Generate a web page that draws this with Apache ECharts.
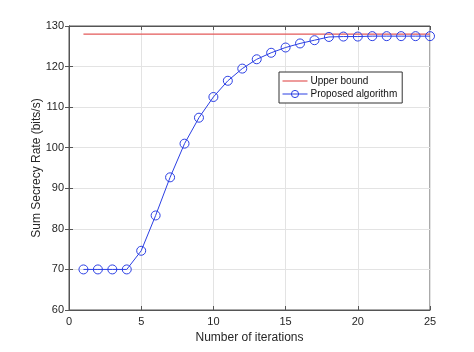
<!DOCTYPE html>
<html>
<head>
<meta charset="utf-8">
<script src="https://cdn.jsdelivr.net/npm/echarts@6/dist/echarts.min.js"></script>
<style>
  html, body { margin: 0; padding: 0; background: #fff; }
  #chart { width: 474px; height: 352px; }
</style>
</head>
<body>
<div id="chart"></div>
<script>
  // iteration index
  const iterations = [1, 2, 3, 4, 5, 6, 7, 8, 9, 10, 11, 12, 13, 14, 15, 16, 17, 18, 19, 20, 21, 22, 23, 24, 25]
  // sum secrecy rate of the proposed algorithm
  const proposed = [70, 70, 70, 70, 74.6, 83.3, 92.7, 101.0, 107.4, 112.5, 116.5, 119.5, 121.8, 123.4, 124.7, 125.7, 126.5, 127.3, 127.4, 127.4, 127.5, 127.5, 127.5, 127.5, 127.5]
  const upperBound = 128
  const xTicks = [0, 5, 10, 15, 20, 25]
  const yTicks = [60, 70, 80, 90, 100, 110, 120, 130]

  const font = 'Liberation Sans, Arial, sans-serif'
  const textColor = '#262626'
  const axisColor = '#555'
  const blue = '#2b3fe3'
  const red = '#e35a5a'
  const gridLine = { show: true, lineStyle: { color: '#e3e3e3', width: 1 } }

  let myChart = echarts.init(document.getElementById('chart'))
  let option = {
    animation: false,
    textStyle: { fontFamily: font, color: textColor },
    grid: {
      left: 69, right: 44, top: 26, bottom: 42,
      show: true, borderColor: axisColor, borderWidth: 1
    },
    legend: {
      orient: 'vertical',
      left: 279, top: 72,
      padding: [4, 5, 4, 3],
      itemGap: 3,
      itemWidth: 25, itemHeight: 9,
      backgroundColor: '#fff',
      borderColor: '#333', borderWidth: 1, borderRadius: 0,
      lineStyle: { width: 1 },
      itemStyle: { borderWidth: 1 },
      textStyle: { fontFamily: font, fontSize: 10, color: '#111', padding: [0, 0, 0, -2] },
      data: [
        { name: 'Upper bound', icon: 'path://M0,0H25V1.2H0Z', itemStyle: { color: red } },
        'Proposed algorithm'
      ]
    },
    xAxis: [
      {
        type: 'value', min: xTicks[0], max: xTicks[xTicks.length - 1], interval: 5,
        name: 'Number of iterations', nameLocation: 'middle', nameGap: 21,
        nameTextStyle: { fontSize: 12, color: textColor },
        axisLine: { show: true, lineStyle: { color: axisColor } },
        axisTick: { inside: true, length: 4, lineStyle: { color: axisColor } },
        axisLabel: { fontSize: 11, color: textColor, margin: 6 },
        splitLine: gridLine
      },
      {
        type: 'value', position: 'top', min: 0, max: 25, interval: 5,
        axisLine: { show: true, lineStyle: { color: axisColor } },
        axisTick: { inside: true, length: 4, lineStyle: { color: axisColor } },
        axisLabel: { show: false }, splitLine: { show: false }
      }
    ],
    yAxis: [
      {
        type: 'value', min: yTicks[0], max: yTicks[yTicks.length - 1], interval: 10,
        name: 'Sum Secrecy Rate (bits/s)', nameLocation: 'middle', nameGap: 26,
        nameMoveOverlap: false,
        nameTextStyle: { fontSize: 12, color: textColor },
        axisLine: { show: true, lineStyle: { color: axisColor } },
        axisTick: { inside: true, length: 4, lineStyle: { color: axisColor } },
        axisLabel: { fontSize: 11, color: textColor, margin: 5 },
        splitLine: gridLine
      },
      {
        type: 'value', position: 'right', min: 60, max: 130, interval: 10,
        axisLine: { show: true, lineStyle: { color: axisColor } },
        axisTick: { inside: true, length: 4, lineStyle: { color: axisColor } },
        axisLabel: { show: false }, splitLine: { show: false }
      }
    ],
    series: [
      {
        name: 'Upper bound',
        type: 'line',
        symbol: 'none',
        color: red,
        lineStyle: { width: 1.2, color: red },
        data: iterations.map(x => [x, upperBound])
      },
      {
        name: 'Proposed algorithm',
        type: 'line',
        symbol: 'circle',
        symbolSize: 9,
        color: blue,
        lineStyle: { width: 1, color: blue },
        itemStyle: { color: 'rgba(0,0,0,0)', borderColor: blue, borderWidth: 1 },
        data: iterations.map((x, i) => [x, proposed[i]])
      }
    ]
  }
  myChart.setOption(option)
</script>
</body>
</html>
